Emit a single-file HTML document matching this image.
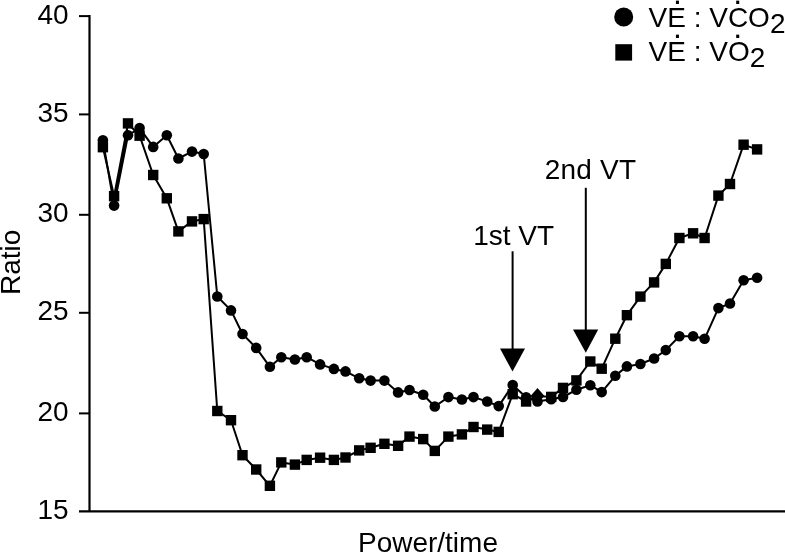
<!DOCTYPE html>
<html lang="en"><head><meta charset="utf-8"><title>Ventilatory equivalents vs power/time</title>
<style>html,body{margin:0;padding:0;background:#fff}svg{display:block}text{font-family:"Liberation Sans",Arial,Helvetica,sans-serif;fill:#000}</style></head><body>
<svg width="785" height="553" viewBox="0 0 785 553">
<rect width="785" height="553" fill="#fff"/>
<g stroke="#000" stroke-width="2" fill="none">
<path d="M89.5 15.1V511.4" stroke-width="2.2"/>
<path d="M79 511.4H785" stroke-width="2.2"/>
<path d="M79 16.1H89.5"/>
<path d="M79 114.4H89.5"/>
<path d="M79 214.8H89.5"/>
<path d="M79 312.8H89.5"/>
<path d="M79 413.4H89.5"/>
</g>
<g font-size="28" text-anchor="end">
<text transform="translate(68.6 23.7) scale(1 0.955)">40</text>
<text transform="translate(68.6 121.9) scale(1 0.955)">35</text>
<text transform="translate(68.6 221.9) scale(1 0.955)">30</text>
<text transform="translate(68.6 320.2) scale(1 0.955)">25</text>
<text transform="translate(68.6 420.8) scale(1 0.955)">20</text>
<text transform="translate(68.6 518.7) scale(1 0.955)">15</text>
</g>
<text font-size="28" transform="translate(20.3 295) rotate(-90) scale(1 0.955)">Ratio</text>
<text font-size="28" transform="translate(358 552.2) scale(1 0.955)">Power/time</text>
<g stroke="#000" stroke-width="2" fill="none" stroke-linejoin="round">
<polyline points="102.9,147.2 114.1,196.2 128.0,123.4 139.6,135.7 153.2,175.0 166.8,198.3 178.4,231.4 192.0,221.4 203.7,219.1 217.3,411.0 231.0,420.2 242.5,455.2 256.2,469.5 269.9,485.8 281.3,462.4 294.9,464.6 306.7,459.9 320.1,457.7 333.9,459.9 345.5,457.5 359.2,450.4 370.6,447.8 384.4,443.8 398.1,445.8 409.5,436.6 423.2,439.1 434.8,450.9 448.4,436.6 461.9,434.4 473.5,427.0 487.2,429.6 498.7,431.9 512.7,394.2 526.1,401.5 537.5,396.0 551.2,396.9 563.0,387.9 576.4,380.4 590.3,361.5 601.7,368.7 615.3,338.7 626.9,315.2 640.4,296.6 654.1,282.4 665.8,263.9 679.4,238.0 693.1,233.3 704.6,238.0 718.4,195.6 730.0,184.0 743.6,144.7 757.1,149.4"/>
<polyline points="102.9,140.2 114.1,205.6 128.0,135.3 139.6,128.1 153.2,146.9 166.8,135.3 178.4,158.5 192.0,151.6 203.7,154.0 217.3,296.5 231.0,310.4 242.5,334.0 256.2,347.9 269.9,366.8 281.3,357.2 294.9,359.5 306.7,357.2 320.1,364.4 333.9,368.9 345.5,371.4 359.2,378.3 370.6,380.6 384.4,380.6 398.1,392.4 409.5,390.0 423.2,394.8 434.8,406.5 448.4,397.1 461.9,399.5 473.5,397.1 487.2,401.5 498.7,406.1 512.7,385.1 526.1,397.3 537.5,401.5 551.2,399.3 563.0,397.0 576.4,389.8 590.3,385.2 601.7,392.1 615.3,375.8 626.9,366.4 640.4,364.0 654.1,358.5 665.8,350.1 679.4,336.2 693.1,336.2 704.6,338.8 718.4,308.1 730.0,303.5 743.6,280.2 757.1,277.7"/>
</g>
<path d="M114.1 196.2L128 123.4V135.3L114.1 205.6Z" fill="#000"/>
<g fill="#000">
<rect x="97.7" y="142.0" width="10.4" height="10.4"/>
<rect x="108.9" y="191.0" width="10.4" height="10.4"/>
<rect x="122.8" y="118.2" width="10.4" height="10.4"/>
<rect x="134.4" y="130.5" width="10.4" height="10.4"/>
<rect x="148.0" y="169.8" width="10.4" height="10.4"/>
<rect x="161.6" y="193.1" width="10.4" height="10.4"/>
<rect x="173.2" y="226.2" width="10.4" height="10.4"/>
<rect x="186.8" y="216.2" width="10.4" height="10.4"/>
<rect x="198.5" y="213.9" width="10.4" height="10.4"/>
<rect x="212.1" y="405.8" width="10.4" height="10.4"/>
<rect x="225.8" y="415.0" width="10.4" height="10.4"/>
<rect x="237.3" y="450.0" width="10.4" height="10.4"/>
<rect x="251.0" y="464.3" width="10.4" height="10.4"/>
<rect x="264.7" y="480.6" width="10.4" height="10.4"/>
<rect x="276.1" y="457.2" width="10.4" height="10.4"/>
<rect x="289.7" y="459.4" width="10.4" height="10.4"/>
<rect x="301.5" y="454.7" width="10.4" height="10.4"/>
<rect x="314.9" y="452.5" width="10.4" height="10.4"/>
<rect x="328.7" y="454.7" width="10.4" height="10.4"/>
<rect x="340.3" y="452.3" width="10.4" height="10.4"/>
<rect x="354.0" y="445.2" width="10.4" height="10.4"/>
<rect x="365.4" y="442.6" width="10.4" height="10.4"/>
<rect x="379.2" y="438.6" width="10.4" height="10.4"/>
<rect x="392.9" y="440.6" width="10.4" height="10.4"/>
<rect x="404.3" y="431.4" width="10.4" height="10.4"/>
<rect x="418.0" y="433.9" width="10.4" height="10.4"/>
<rect x="429.6" y="445.7" width="10.4" height="10.4"/>
<rect x="443.2" y="431.4" width="10.4" height="10.4"/>
<rect x="456.7" y="429.2" width="10.4" height="10.4"/>
<rect x="468.3" y="421.8" width="10.4" height="10.4"/>
<rect x="482.0" y="424.4" width="10.4" height="10.4"/>
<rect x="493.5" y="426.7" width="10.4" height="10.4"/>
<rect x="507.5" y="389.0" width="10.4" height="10.4"/>
<rect x="520.9" y="396.3" width="10.4" height="10.4"/>
<path d="M537.5 388.0L544.5 396.0L537.5 403.0L530.5 396.0Z"/>
<rect x="546.0" y="391.7" width="10.4" height="10.4"/>
<rect x="557.8" y="382.7" width="10.4" height="10.4"/>
<rect x="571.2" y="375.2" width="10.4" height="10.4"/>
<rect x="585.1" y="356.3" width="10.4" height="10.4"/>
<rect x="596.5" y="363.5" width="10.4" height="10.4"/>
<rect x="610.1" y="333.5" width="10.4" height="10.4"/>
<rect x="621.7" y="310.0" width="10.4" height="10.4"/>
<rect x="635.2" y="291.4" width="10.4" height="10.4"/>
<rect x="648.9" y="277.2" width="10.4" height="10.4"/>
<rect x="660.6" y="258.7" width="10.4" height="10.4"/>
<rect x="674.2" y="232.8" width="10.4" height="10.4"/>
<rect x="687.9" y="228.1" width="10.4" height="10.4"/>
<rect x="699.4" y="232.8" width="10.4" height="10.4"/>
<rect x="713.2" y="190.4" width="10.4" height="10.4"/>
<rect x="724.8" y="178.8" width="10.4" height="10.4"/>
<rect x="738.4" y="139.5" width="10.4" height="10.4"/>
<rect x="751.9" y="144.2" width="10.4" height="10.4"/>
<circle cx="102.9" cy="140.2" r="5.3"/>
<circle cx="114.1" cy="205.6" r="5.3"/>
<circle cx="128.0" cy="135.3" r="5.3"/>
<circle cx="139.6" cy="128.1" r="5.3"/>
<circle cx="153.2" cy="146.9" r="5.3"/>
<circle cx="166.8" cy="135.3" r="5.3"/>
<circle cx="178.4" cy="158.5" r="5.3"/>
<circle cx="192.0" cy="151.6" r="5.3"/>
<circle cx="203.7" cy="154.0" r="5.3"/>
<circle cx="217.3" cy="296.5" r="5.3"/>
<circle cx="231.0" cy="310.4" r="5.3"/>
<circle cx="242.5" cy="334.0" r="5.3"/>
<circle cx="256.2" cy="347.9" r="5.3"/>
<circle cx="269.9" cy="366.8" r="5.3"/>
<circle cx="281.3" cy="357.2" r="5.3"/>
<circle cx="294.9" cy="359.5" r="5.3"/>
<circle cx="306.7" cy="357.2" r="5.3"/>
<circle cx="320.1" cy="364.4" r="5.3"/>
<circle cx="333.9" cy="368.9" r="5.3"/>
<circle cx="345.5" cy="371.4" r="5.3"/>
<circle cx="359.2" cy="378.3" r="5.3"/>
<circle cx="370.6" cy="380.6" r="5.3"/>
<circle cx="384.4" cy="380.6" r="5.3"/>
<circle cx="398.1" cy="392.4" r="5.3"/>
<circle cx="409.5" cy="390.0" r="5.3"/>
<circle cx="423.2" cy="394.8" r="5.3"/>
<circle cx="434.8" cy="406.5" r="5.3"/>
<circle cx="448.4" cy="397.1" r="5.3"/>
<circle cx="461.9" cy="399.5" r="5.3"/>
<circle cx="473.5" cy="397.1" r="5.3"/>
<circle cx="487.2" cy="401.5" r="5.3"/>
<circle cx="498.7" cy="406.1" r="5.3"/>
<circle cx="512.7" cy="385.1" r="5.3"/>
<circle cx="526.1" cy="397.3" r="5.3"/>
<circle cx="537.5" cy="401.5" r="5.3"/>
<circle cx="551.2" cy="399.3" r="5.3"/>
<circle cx="563.0" cy="397.0" r="5.3"/>
<circle cx="576.4" cy="389.8" r="5.3"/>
<circle cx="590.3" cy="385.2" r="5.3"/>
<circle cx="601.7" cy="392.1" r="5.3"/>
<circle cx="615.3" cy="375.8" r="5.3"/>
<circle cx="626.9" cy="366.4" r="5.3"/>
<circle cx="640.4" cy="364.0" r="5.3"/>
<circle cx="654.1" cy="358.5" r="5.3"/>
<circle cx="665.8" cy="350.1" r="5.3"/>
<circle cx="679.4" cy="336.2" r="5.3"/>
<circle cx="693.1" cy="336.2" r="5.3"/>
<circle cx="704.6" cy="338.8" r="5.3"/>
<circle cx="718.4" cy="308.1" r="5.3"/>
<circle cx="730.0" cy="303.5" r="5.3"/>
<circle cx="743.6" cy="280.2" r="5.3"/>
<circle cx="757.1" cy="277.7" r="5.3"/>
</g>
<g stroke="#000" stroke-width="2" fill="#000">
<path d="M512.6 251.3V350" fill="none"/>
<path d="M585.8 187.8V331" fill="none"/>
<path d="M500 348.6H525L512.5 371.6Z" stroke="none"/>
<path d="M573 329.5H598.2L585.8 352.8Z" stroke="none"/>
</g>
<text font-size="28" transform="translate(473.2 244.6) scale(1 0.955)">1st VT</text>
<text font-size="28" transform="translate(544.8 178.8) scale(1 0.955)" letter-spacing="0.2">2nd VT</text>
<circle cx="623.7" cy="17" r="9.5" fill="#000"/>
<rect x="615.3" y="44.2" width="16.8" height="16.4" fill="#000"/>
<text font-size="28" transform="translate(648.6 26.7) scale(1 0.955)">VE : VCO<tspan dy="6.8">2</tspan></text>
<text font-size="28" transform="translate(648.6 60.6) scale(1 0.955)">VE : VO<tspan dy="6.8">2</tspan></text>
<text font-size="32" text-anchor="middle" x="677.5" y="3.5">.</text>
<text font-size="32" text-anchor="middle" x="737.7" y="3.5">.</text>
<text font-size="32" text-anchor="middle" x="677.5" y="38.1">.</text>
<text font-size="32" text-anchor="middle" x="737.7" y="38.1">.</text>
</svg></body></html>
